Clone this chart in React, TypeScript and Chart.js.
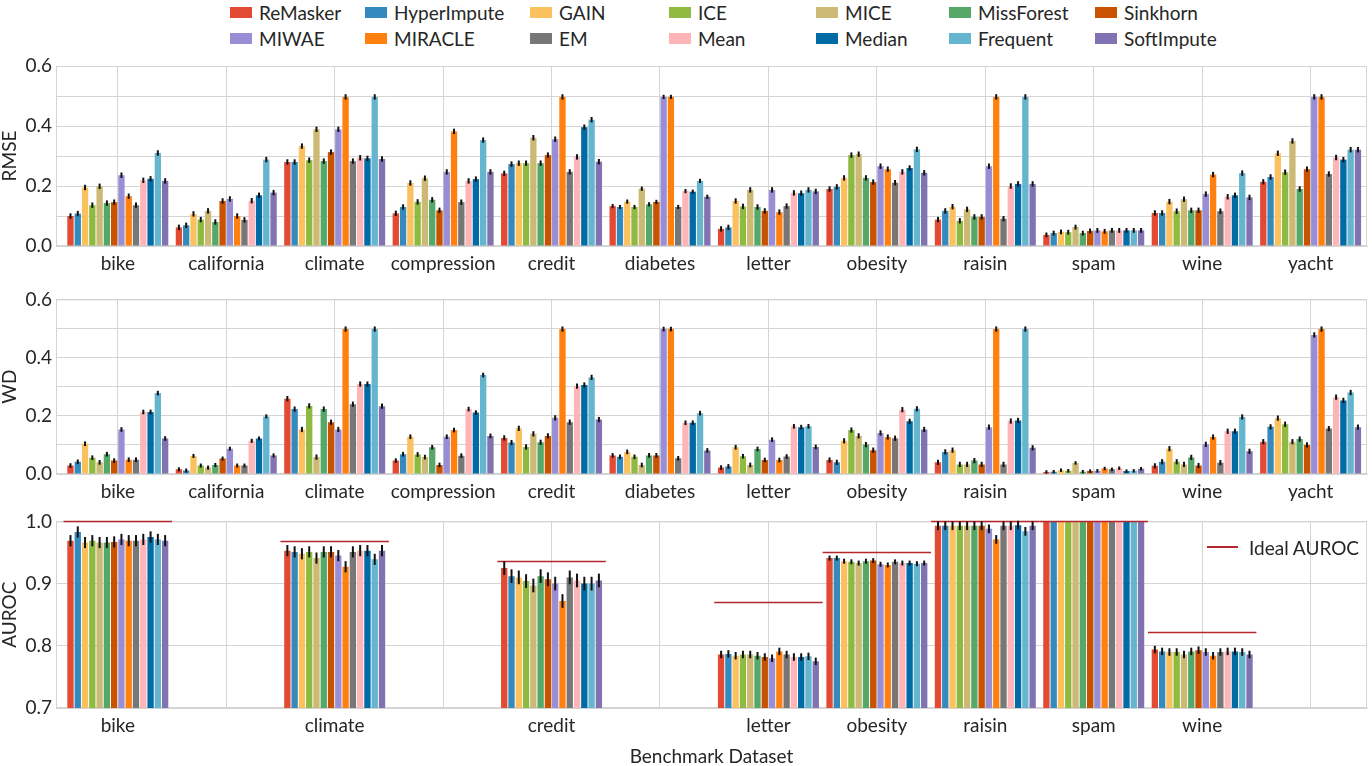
import React, { useEffect, useRef } from "react";
import { Chart, registerables } from "chart.js";
Chart.register(...registerables);

// ---------- data ----------
const datasetNames = ["bike", "california", "climate", "compression", "credit", "diabetes", "letter", "obesity", "raisin", "spam", "wine", "yacht"];
const methods = ["ReMasker", "HyperImpute", "GAIN", "ICE", "MICE", "MissForest", "Sinkhorn", "MIWAE", "MIRACLE", "EM", "Mean", "Median", "Frequent", "SoftImpute"];
const colors = ["#E24A33", "#348ABD", "#FBC15E", "#8EBA42", "#CCB974", "#55A868", "#C85200", "#988ED5", "#FF800E", "#777777", "#FFB5B8", "#006BA4", "#64B5CD", "#8172B2"];

// rows = datasets, columns = methods (same order as `methods`)
const rmse = [
  [0.100, 0.108, 0.195, 0.136, 0.199, 0.143, 0.146, 0.236, 0.166, 0.136, 0.219, 0.224, 0.310, 0.217], // bike
  [0.062, 0.069, 0.107, 0.088, 0.117, 0.080, 0.150, 0.157, 0.100, 0.087, 0.151, 0.169, 0.288, 0.178], // california
  [0.280, 0.280, 0.333, 0.286, 0.389, 0.283, 0.313, 0.389, 0.497, 0.283, 0.294, 0.292, 0.497, 0.290], // climate
  [0.109, 0.130, 0.210, 0.147, 0.226, 0.154, 0.119, 0.247, 0.382, 0.146, 0.217, 0.223, 0.353, 0.247], // compression
  [0.242, 0.273, 0.276, 0.276, 0.361, 0.276, 0.303, 0.356, 0.497, 0.247, 0.297, 0.396, 0.421, 0.281], // credit
  [0.133, 0.130, 0.148, 0.130, 0.191, 0.139, 0.147, 0.497, 0.497, 0.130, 0.183, 0.181, 0.217, 0.164], // diabetes
  [0.057, 0.062, 0.150, 0.132, 0.187, 0.130, 0.117, 0.187, 0.113, 0.133, 0.177, 0.176, 0.187, 0.182], // letter
  [0.190, 0.197, 0.227, 0.303, 0.306, 0.227, 0.213, 0.266, 0.256, 0.211, 0.247, 0.260, 0.322, 0.244], // obesity
  [0.088, 0.117, 0.131, 0.084, 0.122, 0.097, 0.097, 0.266, 0.497, 0.091, 0.200, 0.207, 0.497, 0.207], // raisin
  [0.037, 0.043, 0.047, 0.046, 0.063, 0.043, 0.050, 0.052, 0.049, 0.052, 0.052, 0.052, 0.052, 0.052], // spam
  [0.110, 0.110, 0.148, 0.116, 0.156, 0.119, 0.119, 0.173, 0.238, 0.116, 0.164, 0.169, 0.243, 0.162], // wine
  [0.214, 0.230, 0.309, 0.246, 0.350, 0.190, 0.256, 0.497, 0.497, 0.240, 0.295, 0.288, 0.321, 0.321], // yacht
];
const rmseErr = [0.009, 0.009, 0.009, 0.009, 0.009, 0.007, 0.009, 0.009, 0.009, 0.008, 0.009, 0.009];

const wd = [
  [0.029, 0.042, 0.104, 0.056, 0.040, 0.068, 0.046, 0.153, 0.049, 0.049, 0.213, 0.213, 0.278, 0.122], // bike
  [0.016, 0.012, 0.062, 0.029, 0.022, 0.031, 0.053, 0.087, 0.029, 0.029, 0.114, 0.122, 0.198, 0.064], // california
  [0.259, 0.223, 0.153, 0.234, 0.058, 0.223, 0.178, 0.153, 0.498, 0.240, 0.309, 0.309, 0.498, 0.233], // climate
  [0.046, 0.068, 0.128, 0.067, 0.058, 0.092, 0.031, 0.128, 0.151, 0.063, 0.223, 0.211, 0.340, 0.131], // compression
  [0.124, 0.108, 0.157, 0.093, 0.138, 0.109, 0.131, 0.193, 0.498, 0.178, 0.302, 0.306, 0.332, 0.187], // credit
  [0.064, 0.059, 0.076, 0.059, 0.031, 0.064, 0.064, 0.498, 0.498, 0.054, 0.176, 0.176, 0.209, 0.081], // diabetes
  [0.022, 0.026, 0.092, 0.061, 0.031, 0.086, 0.048, 0.118, 0.048, 0.060, 0.164, 0.161, 0.164, 0.093], // letter
  [0.048, 0.040, 0.114, 0.151, 0.131, 0.101, 0.082, 0.141, 0.127, 0.123, 0.221, 0.181, 0.224, 0.153], // obesity
  [0.040, 0.076, 0.082, 0.033, 0.033, 0.046, 0.033, 0.161, 0.498, 0.033, 0.182, 0.184, 0.498, 0.090], // raisin
  [0.007, 0.008, 0.013, 0.011, 0.038, 0.008, 0.010, 0.011, 0.019, 0.016, 0.020, 0.010, 0.011, 0.018], // spam
  [0.028, 0.042, 0.087, 0.042, 0.033, 0.057, 0.029, 0.102, 0.127, 0.039, 0.147, 0.147, 0.196, 0.078], // wine
  [0.111, 0.162, 0.192, 0.171, 0.111, 0.120, 0.100, 0.478, 0.498, 0.156, 0.264, 0.253, 0.280, 0.161], // yacht
];
const wdErr = [0.008, 0.007, 0.009, 0.008, 0.009, 0.008, 0.008, 0.009, 0.009, 0.006, 0.009, 0.009];

const auroc = [
  [0.969, 0.983, 0.966, 0.969, 0.966, 0.966, 0.967, 0.971, 0.969, 0.969, 0.971, 0.975, 0.971, 0.969], // bike
  null, // california
  [0.953, 0.951, 0.948, 0.951, 0.941, 0.951, 0.951, 0.945, 0.927, 0.951, 0.953, 0.953, 0.939, 0.953], // climate
  null, // compression
  [0.925, 0.912, 0.910, 0.904, 0.897, 0.912, 0.907, 0.900, 0.872, 0.910, 0.905, 0.900, 0.900, 0.905], // credit
  null, // diabetes
  [0.786, 0.787, 0.784, 0.786, 0.786, 0.784, 0.782, 0.780, 0.791, 0.786, 0.782, 0.782, 0.783, 0.775], // letter
  [0.941, 0.941, 0.936, 0.935, 0.933, 0.936, 0.937, 0.931, 0.930, 0.935, 0.933, 0.933, 0.932, 0.933], // obesity
  [0.993, 0.993, 0.993, 0.993, 0.993, 0.993, 0.993, 0.988, 0.971, 0.993, 0.993, 0.994, 0.984, 0.993], // raisin
  [1.0, 1.0, 1.0, 1.0, 1.0, 1.0, 1.0, 1.0, 1.0, 1.0, 1.0, 1.0, 1.0, 1.0], // spam
  [0.794, 0.791, 0.790, 0.790, 0.786, 0.791, 0.793, 0.790, 0.784, 0.790, 0.791, 0.791, 0.790, 0.786], // wine
  null, // yacht
];
const aurocErr = [0.009, 0, 0.009, 0, 0.011, 0, 0.006, 0.004, 0.007, 0, 0.006, 0];
const idealAuroc = [1.0, null, 0.968, null, 0.937, null, 0.870, 0.951, 1.0, 1.0, 0.822, null];
// vertical grid lines not drawn in the AUROC panel
const aurocHiddenGrid = [0, 2];

const errTicks = [0, 0.2, 0.4, 0.6];

// ---------- style ----------
const FONT = "Lato, 'DejaVu Sans', sans-serif";
const TEXT = "#262626";
const GRID = "#d4d4d4";
const IDEAL = "#B5272D";

function framePlugin() {
  return {
    id: "frame",
    beforeDatasetsDraw(chart: any) {
      const { ctx, chartArea: a } = chart;
      ctx.save();
      ctx.strokeStyle = GRID;
      ctx.lineWidth = 1;
      ctx.strokeRect(a.left + 0.5, a.top + 0.5, a.right - a.left - 1, a.bottom - a.top - 1);
      ctx.restore();
    },
  };
}

function idealPlugin(values: (number | null)[] | null) {
  return {
    id: "ideal",
    afterDatasetsDraw(chart: any) {
      if (!values) return;
      const { ctx } = chart;
      const x = chart.scales.x, y = chart.scales.y;
      const half = (x.getPixelForValue(1) - x.getPixelForValue(0)) / 2;
      ctx.save();
      ctx.strokeStyle = IDEAL;
      ctx.lineWidth = 1.5;
      values.forEach((v, i) => {
        if (v == null) return;
        const cx = x.getPixelForValue(i);
        const py = Math.round(y.getPixelForValue(v)) + 0.5;
        ctx.beginPath();
        ctx.moveTo(cx - half, py);
        ctx.lineTo(cx + half, py);
        ctx.stroke();
      });
      ctx.restore();
    },
  };
}

function errorPlugin(errs: number[]) {
  return {
    id: "errbars",
    afterDatasetsDraw(chart: any) {
      const { ctx } = chart;
      const y = chart.scales.y;
      ctx.save();
      ctx.strokeStyle = "#111";
      ctx.lineWidth = 2;
      chart.data.datasets.forEach((ds: any, di: number) => {
        const meta = chart.getDatasetMeta(di);
        meta.data.forEach((bar: any, i: number) => {
          const p = ds.data[i];
          if (!p || p.y == null) return;
          const e = errs[p.x];
          if (!e) return;
          ctx.beginPath();
          ctx.moveTo(bar.x, y.getPixelForValue(p.y - e));
          ctx.lineTo(bar.x, y.getPixelForValue(p.y + e));
          ctx.stroke();
        });
      });
      ctx.restore();
    },
  };
}

type PanelCfg = {
  rows: (number[] | null)[];
  errs: number[];
  yMin: number;
  yMax: number;
  yTitle: string;
  yLabel: (v: number) => string;
  xTitle?: string;
  padTop: number;
  xHeight: number;
  ideal?: (number | null)[];
  hiddenGrid?: number[];
};

function makeChart(canvas: HTMLCanvasElement, cfg: PanelCfg) {
  const tickFont = { family: FONT, size: 19 };
  const hidden = cfg.hiddenGrid || [];
  const datasets = methods.map((m, mi) => ({
    label: m,
    backgroundColor: colors[mi],
    borderWidth: 0,
    categoryPercentage: 0.94,
    barPercentage: 0.87,
    data: datasetNames.map((_, d) => ({ x: d, y: cfg.rows[d] ? (cfg.rows[d] as number[])[mi] : null })),
  }));
  return new Chart(canvas, {
    type: "bar",
    data: { datasets } as any,
    options: {
      animation: false,
      responsive: false,
      maintainAspectRatio: false,
      layout: { padding: { top: cfg.padTop, right: 5, left: 0, bottom: 0 } },
      plugins: { legend: { display: false }, tooltip: { enabled: false } },
      scales: {
        x: {
          type: "linear",
          min: -0.57,
          max: 11.52,
          offset: false,
          grid: {
            color: (c: any) => (c.tick && hidden.includes(c.tick.value) ? "rgba(0,0,0,0)" : GRID),
            lineWidth: 1,
            drawTicks: false,
            offset: false,
          },
          border: { display: true, color: GRID },
          ticks: {
            stepSize: 1,
            includeBounds: false,
            autoSkip: false,
            maxRotation: 0,
            padding: 6,
            color: TEXT,
            font: tickFont,
            callback: (v: any) => {
              const n = Number(v);
              if (!Number.isInteger(n)) return "";
              return cfg.rows[n] ? datasetNames[n] : "";
            },
          },
          title: cfg.xTitle
            ? { display: true, text: cfg.xTitle, color: TEXT, font: tickFont, padding: { top: 0, bottom: -2 } }
            : { display: false },
          afterFit: (s: any) => {
            s.height = cfg.xHeight;
          },
        },
        y: {
          min: cfg.yMin,
          max: cfg.yMax,
          grid: { color: GRID, lineWidth: 1, drawTicks: false },
          border: { display: true, color: GRID },
          ticks: {
            stepSize: 0.1,
            padding: 4,
            color: TEXT,
            font: tickFont,
            callback: (v: any) => cfg.yLabel(Number(v)),
          },
          title: { display: true, text: cfg.yTitle, color: TEXT, font: tickFont, padding: { top: -2, bottom: 0 } },
          afterFit: (s: any) => {
            s.width = 56;
          },
        },
      },
    } as any,
    plugins: [framePlugin(), idealPlugin(cfg.ideal || null), errorPlugin(cfg.errs)] as any,
  });
}

const errLabel = (v: number) => {
  const hit = errTicks.find((t) => Math.abs(t - v) < 1e-6);
  return hit === undefined ? "" : hit.toFixed(1);
};
const aurocLabel = (v: number) => v.toFixed(1);

const legendCols = [230, 365, 530, 669, 816, 949, 1095];
const legendRows = [12, 38];

export default function App() {
  const r1 = useRef<HTMLCanvasElement>(null);
  const r2 = useRef<HTMLCanvasElement>(null);
  const r3 = useRef<HTMLCanvasElement>(null);

  useEffect(() => {
    const charts = [
      makeChart(r1.current!, { rows: rmse, errs: rmseErr, yMin: 0, yMax: 0.6, yTitle: "RMSE", yLabel: errLabel, padTop: 16, xHeight: 38 }),
      makeChart(r2.current!, { rows: wd, errs: wdErr, yMin: 0, yMax: 0.6, yTitle: "WD", yLabel: errLabel, padTop: 10, xHeight: 32 }),
      makeChart(r3.current!, {
        rows: auroc,
        errs: aurocErr,
        yMin: 0.7,
        yMax: 1.0,
        yTitle: "AUROC",
        yLabel: aurocLabel,
        xTitle: "Benchmark Dataset",
        padTop: 13,
        xHeight: 58,
        ideal: idealAuroc,
        hiddenGrid: aurocHiddenGrid,
      }),
    ];
    return () => charts.forEach((c) => c.destroy());
  }, []);

  return (
    <div
      style={{
        position: "absolute",
        left: 0,
        top: 0,
        width: 1372,
        height: 766,
        overflow: "hidden",
        background: "#fff",
        fontFamily: FONT,
        color: TEXT,
      }}
    >
      {methods.map((m, i) => (
        <div
          key={m}
          style={{
            position: "absolute",
            left: legendCols[i % 7],
            top: legendRows[Math.floor(i / 7)] - 12,
            height: 24,
            display: "flex",
            alignItems: "center",
            fontSize: 19,
            whiteSpace: "nowrap",
          }}
        >
          <span style={{ display: "inline-block", width: 22, height: 11, background: colors[i], marginRight: 7 }} />
          <span>{m}</span>
        </div>
      ))}
      <canvas ref={r1} width={1372} height={234} style={{ position: "absolute", left: 0, top: 50, width: 1372, height: 234 }} />
      <canvas ref={r2} width={1372} height={222} style={{ position: "absolute", left: 0, top: 284, width: 1372, height: 222 }} />
      <canvas ref={r3} width={1372} height={260} style={{ position: "absolute", left: 0, top: 506, width: 1372, height: 260 }} />
      <div
        style={{
          position: "absolute",
          left: 1207,
          top: 535,
          height: 24,
          display: "flex",
          alignItems: "center",
          fontSize: 19,
          whiteSpace: "nowrap",
        }}
      >
        <span style={{ display: "inline-block", width: 31, height: 2.5, background: IDEAL, marginRight: 11 }} />
        <span>Ideal AUROC</span>
      </div>
    </div>
  );
}
